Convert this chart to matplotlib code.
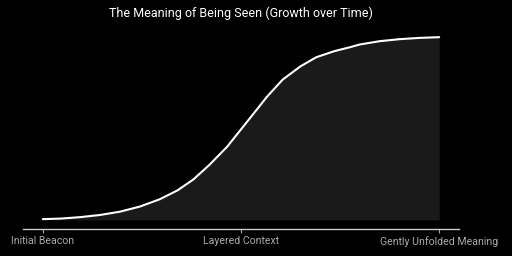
import matplotlib
matplotlib.use("Agg")
from matplotlib import pyplot as plt

plt.rcParams['font.family'] = ['Roboto', 'DejaVu Sans']

# curve values (x in stage units, y in percent)
stage_x = [0.0, 0.09, 0.19, 0.29, 0.39, 0.49, 0.59, 0.68, 0.76, 0.84, 0.93, 1.01,
           1.09, 1.13, 1.21, 1.30, 1.38, 1.47, 1.55, 1.60, 1.70, 1.80, 1.90, 2.0]
growth = [0.4, 0.7, 1.5, 2.7, 4.5, 7.3, 11.3, 16.2, 22.2, 30.1, 40.1, 51.0,
          61.9, 67.4, 76.9, 84.2, 89.2, 92.5, 94.7, 96.2, 98.0, 99.1, 99.8, 100.2]
tick_pos = [0, 1, 2]
tick_labels = ['Initial Beacon', 'Layered Context', 'Gently Unfolded Meaning']

fig = plt.figure(figsize=(5.12, 2.56), dpi=100, facecolor='black')
ax = fig.add_axes([23 / 512, 0.1055, 436 / 512, 0.785])
ax.set_facecolor('black')

ax.fill_between(stage_x, growth, 0, color='#1a1a1a', linewidth=0)
ax.plot(stage_x, growth, color='white', linewidth=1.5, solid_capstyle='round',
        solid_joinstyle='round')

ax.set_xticks(tick_pos)
ax.set_xticklabels(tick_labels, fontsize=7.6)
ax.set_yticks([])
ax.tick_params(axis='x', colors='#aaaaaa', length=3, width=0.8, pad=2)
for side in ['top', 'right', 'left']:
    ax.spines[side].set_visible(False)
ax.spines['bottom'].set_color('#cccccc')
ax.spines['bottom'].set_linewidth(1.0)

ax.set_title('The Meaning of Being Seen (Growth over Time)', color='white', fontsize=9, pad=8)

fig.savefig('out.png', dpi=100, facecolor='black')
